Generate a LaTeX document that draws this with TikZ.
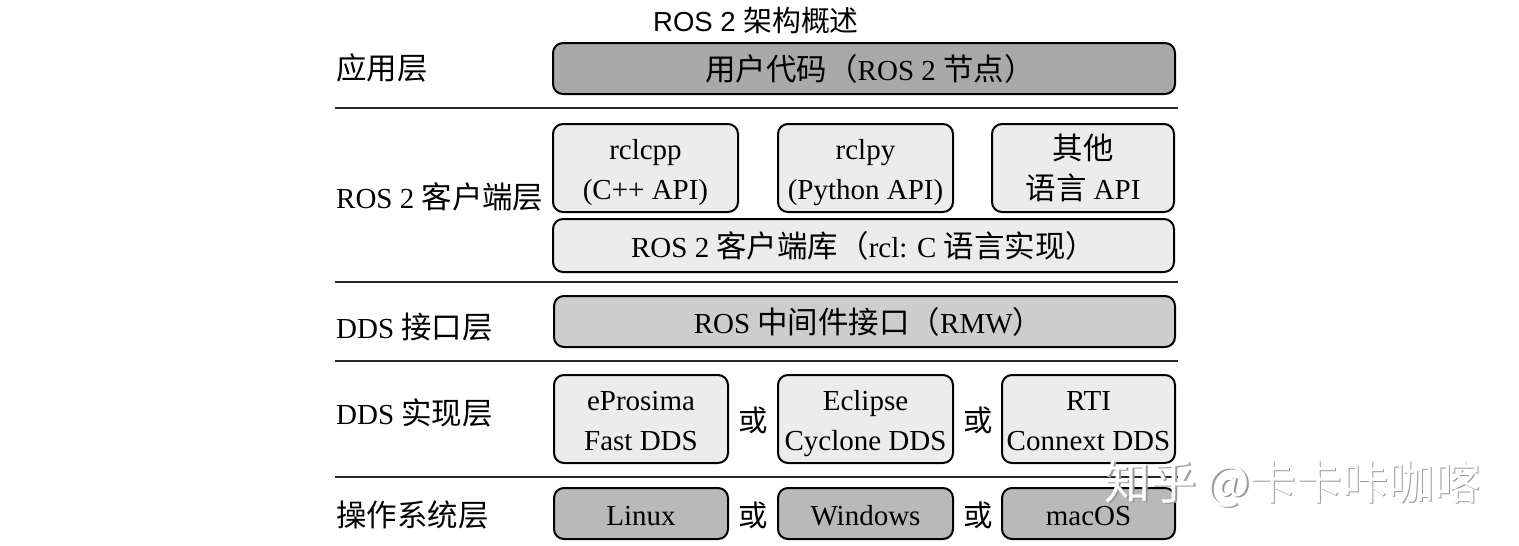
\documentclass[tikz,border=0pt]{standalone}
\usepackage{fontspec}
\setmainfont{Liberation Serif}
\newfontfamily\cjk[Scale=1.05]{Noto Sans CJK SC}
\newfontfamily\wmfont{Noto Sans CJK SC}
\newfontfamily\titlesans{Liberation Sans}
\definecolor{appgray}{HTML}{A9A9A9}
\definecolor{rmwgray}{HTML}{CDCDCD}
\definecolor{osgray}{HTML}{B9B9B9}
\definecolor{lightgray}{HTML}{ECECEC}
\definecolor{wmgray}{HTML}{9A9A9A}
\newcommand{\bs}{\rule[-6pt]{0pt}{35pt}}
\begin{document}
\begin{tikzpicture}[x=1pt,y=-1pt,
  box/.style={draw=black, line width=2pt, rounded corners=10pt, inner sep=0pt,
    align=center, font=\fontsize{29}{40}\selectfont},
  lightbox/.style={box, fill=lightgray},
  layerlabel/.style={anchor=west, inner sep=0pt, font=\fontsize{29}{34}\selectfont},
  ortext/.style={inner sep=0pt, font=\fontsize{28}{34}\selectfont\cjk},
  sep/.style={line width=2.5pt, draw=black!85}]
\useasboundingbox (0,0) rectangle (1519,546);
\fill[white] (0,0) rectangle (1519,546);

% title
\node (title) at (756,21) [inner sep=0pt, font=\fontsize{27.5}{30}\selectfont] {\titlesans ROS 2 {\cjk 架构概述}};

% layer labels
\node (l1) at (336,68) [layerlabel] {\cjk 应用层};
\node (l2) at (336,197) [layerlabel] {ROS 2 {\cjk 客户端层}};
\node (l3) at (336,327) [layerlabel] {DDS {\cjk 接口层}};
\node (l4) at (336,413) [layerlabel] {DDS {\cjk 实现层}};
\node (l5) at (336,515) [layerlabel] {\cjk 操作系统层};

% separators
\coordinate (s1a) at (335,108); \coordinate (s1b) at (1178,108);
\coordinate (s2a) at (335,282); \coordinate (s2b) at (1178,282);
\coordinate (s3a) at (335,361); \coordinate (s3b) at (1178,361);
\coordinate (s4a) at (335,477); \coordinate (s4b) at (1178,477);
\draw[sep] (s1a) -- (s1b);
\draw[sep] (s2a) -- (s2b);
\draw[sep] (s3a) -- (s3b);
\draw[sep] (s4a) -- (s4b);

% application layer
\node (app) at (864,68.5) [box, fill=appgray, minimum width=622pt, minimum height=51pt]
  {\bs\hspace{12pt}{\cjk 用户代码（}ROS 2 {\cjk 节点）}};

% client layer
\node (rclcpp) at (645.5,168) [lightbox, minimum width=185pt, minimum height=88pt]
  {\bs rclcpp\\\bs(C++ API)};
\node (rclpy) at (865.5,168) [lightbox, minimum width=175pt, minimum height=88pt]
  {\bs rclpy\\\bs(Python API)};
\node (other) at (1083,168) [lightbox, minimum width=182pt, minimum height=88pt]
  {\bs{\cjk 其他}\\\bs{\cjk 语言} API};
\node (rcl) at (863.5,245.5) [lightbox, minimum width=621pt, minimum height=53pt]
  {\bs ROS 2 {\cjk 客户端库（}rcl: C {\cjk 语言实现）}};

% DDS interface layer
\node (rmw) at (864.5,321.5) [box, fill=rmwgray, minimum width=621pt, minimum height=51pt]
  {\bs\hspace{8pt}ROS {\cjk 中间件接口（}RMW{\cjk ）}};

% DDS implementation layer
\node (fast) at (641,419) [lightbox, minimum width=174pt, minimum height=88pt]
  {\bs eProsima\\\bs Fast DDS};
\node (cyclone) at (865.5,419) [lightbox, minimum width=175pt, minimum height=88pt]
  {\bs Eclipse\\\bs Cyclone DDS};
\node (rti) at (1088.5,419) [lightbox, minimum width=173pt, minimum height=88pt]
  {\bs RTI\\\bs Connext DDS};
\node (or1) at (753,420) [ortext] {或};
\node (or2) at (978,420) [ortext] {或};

% OS layer
\node (linux) at (641,513.5) [box, fill=osgray, minimum width=174pt, minimum height=51pt] {\bs Linux};
\node (windows) at (865.5,513.5) [box, fill=osgray, minimum width=175pt, minimum height=51pt] {\bs Windows};
\node (macos) at (1088.5,513.5) [box, fill=osgray, minimum width=173pt, minimum height=51pt] {\bs macOS};
\node (or3) at (753,515) [ortext] {或};
\node (or4) at (978,515) [ortext] {或};

% watermark
\node (wmshadow) at (1294,485.5) [inner sep=0pt, text=wmgray, font=\fontsize{46}{50}\selectfont\wmfont] {知乎 @卡卡咔咖喀};
\node (wm) at (1292.5,484) [inner sep=0pt, text=white, font=\fontsize{46}{50}\selectfont\wmfont] {知乎 @卡卡咔咖喀};
\end{tikzpicture}
\end{document}
